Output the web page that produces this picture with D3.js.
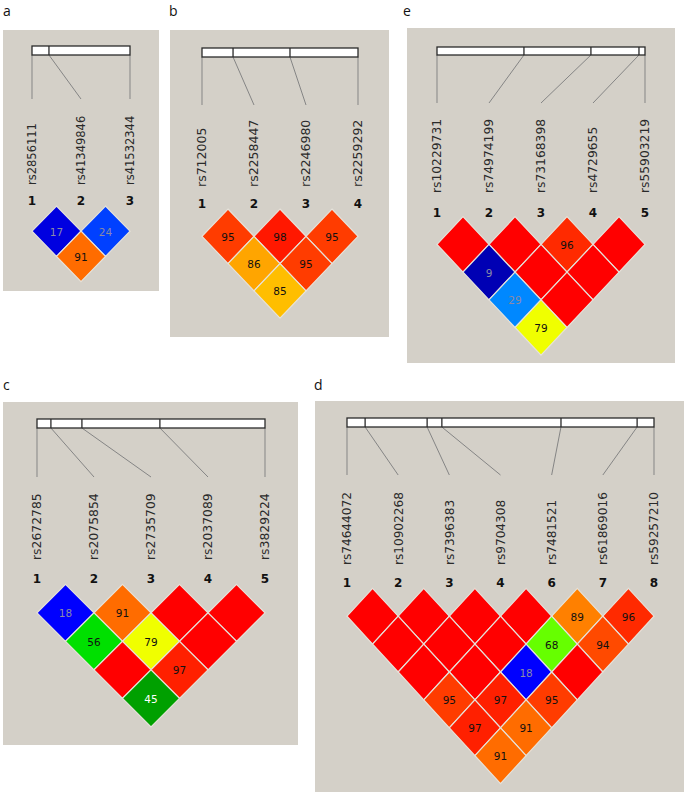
<!DOCTYPE html>
<html>
<head>
<meta charset="utf-8">
<script src="https://cdn.jsdelivr.net/npm/d3@7"></script>
<style>
  html, body { margin: 0; padding: 0; background: #ffffff; }
  svg { display: block; }
</style>
</head>
<body>
<div id="chart"></div>
<script>
// ---------------- DATA ----------------
const panelIds = ["a", "b", "c", "d", "e"];

// Panel a
const snpsA = ["rs2856111", "rs41349846", "rs41532344"];
const numsA = ["1", "2", "3"];
const physA = [0, 0.173, 1];                 // relative physical position on the bar
const dprimeA = [[17, 24], [91]];            // D' x100 by distance (row 1 = adjacent pairs); 100 = D' 1

// Panel b
const snpsB = ["rs712005", "rs2258447", "rs2246980", "rs2259292"];
const numsB = ["1", "2", "3", "4"];
const physB = [0, 0.199, 0.564, 1];
const dprimeB = [[95, 98, 95], [86, 95], [85]];

// Panel c
const snpsC = ["rs2672785", "rs2075854", "rs2735709", "rs2037089", "rs3829224"];
const numsC = ["1", "2", "3", "4", "5"];
const physC = [0, 0.061, 0.197, 0.539, 1];
const dprimeC = [[18, 91, 100, 100], [56, 79, 100], [100, 97], [45]];

// Panel d
const snpsD = ["rs74644072", "rs10902268", "rs7396383", "rs9704308", "rs7481521", "rs61869016", "rs59257210"];
const numsD = ["1", "2", "3", "4", "6", "7", "8"];
const physD = [0, 0.059, 0.261, 0.309, 0.697, 0.945, 1];
const dprimeD = [
  [100, 100, 100, 100, 89, 96],
  [100, 100, 100, 68, 94],
  [100, 100, 18, 100],
  [95, 97, 95],
  [97, 91],
  [91]
];

// Panel e
const snpsE = ["rs10229731", "rs74974199", "rs73168398", "rs4729655", "rs55903219"];
const numsE = ["1", "2", "3", "4", "5"];
const physE = [0, 0.418, 0.740, 0.971, 1];
const dprimeE = [[100, 100, 96, 100], [9, 100, 100], [29, 100], [79]];

// colour key (D' x100 -> fill)
const keyValues = [9, 17, 18, 24, 29, 45, 56, 68, 79, 85, 86, 89, 91, 94, 95, 96, 97, 98, 100];
const keyColors = ["#0000b4", "#0000e0", "#0000ff", "#0040ff", "#0088ff", "#00a000", "#00e000",
  "#66ff00", "#f0ff00", "#ffbe00", "#ffa500", "#ff8000", "#ff6c00", "#ff4a00", "#ff3c00",
  "#ff2a00", "#ff2000", "#ff1800", "#ff0000"];

// ---------------- LAYOUT ----------------
const W = 685, H = 794;
const layout = {
  a: { bg: [3, 30, 159, 291], lab: [3, 16], barTop: 46, barBot: 55, lineBot: 99, labelBot: 185, numBase: 204.5, x0: 32, x1: 130, top: 206, hy: 25.2, fs: 11.5 },
  b: { bg: [170, 30, 389, 337], lab: [169, 16], barTop: 48, barBot: 57, lineBot: 105, labelBot: 187, numBase: 208, x0: 202, x1: 358, top: 209, hy: 27.3, fs: 12.5 },
  c: { bg: [3, 402, 298, 745], lab: [3, 390], barTop: 419, barBot: 428, lineBot: 477, labelBot: 560, numBase: 583, x0: 37, x1: 265, top: 584.3, hy: 28.5, fs: 12.4 },
  d: { bg: [315, 401, 684, 792], lab: [314, 390], barTop: 418, barBot: 427, lineBot: 475, labelBot: 565, numBase: 587, x0: 347, x1: 654, top: 588.3, hy: 27.9, fs: 12.1 },
  e: { bg: [407, 28, 675, 363], lab: [403, 16], barTop: 47, barBot: 55, lineBot: 103, labelBot: 193, numBase: 216.5, x0: 437, x1: 645, top: 216.7, hy: 27.7, fs: 12.3 }
};
const panelData = {
  a: { snps: snpsA, nums: numsA, phys: physA, rows: dprimeA },
  b: { snps: snpsB, nums: numsB, phys: physB, rows: dprimeB },
  c: { snps: snpsC, nums: numsC, phys: physC, rows: dprimeC },
  d: { snps: snpsD, nums: numsD, phys: physD, rows: dprimeD },
  e: { snps: snpsE, nums: numsE, phys: physE, rows: dprimeE }
};

const color = d3.scaleLinear().domain(keyValues).range(keyColors).interpolate(d3.interpolateRgb);
const textColor = v => v < 40 ? "#8a8aa6" : (v < 50 ? "#ffffff" : "#111111");
const FONT = "'DejaVu Sans', sans-serif";

const svg = d3.select("#chart").append("svg")
  .attr("width", W).attr("height", H)
  .attr("viewBox", `0 0 ${W} ${H}`);

panelIds.forEach(id => {
  const L = layout[id], D = panelData[id];
  const n = D.snps.length;
  const g = svg.append("g").attr("class", "panel-" + id);

  // background
  g.append("rect")
    .attr("x", L.bg[0]).attr("y", L.bg[1])
    .attr("width", L.bg[2] - L.bg[0]).attr("height", L.bg[3] - L.bg[1])
    .attr("fill", "#d4d0c8");

  // panel letter
  g.append("text")
    .attr("x", L.lab[0]).attr("y", L.lab[1])
    .attr("font-family", "'Open Sans', 'DejaVu Sans', sans-serif")
    .attr("font-size", 14)
    .attr("fill", "#111")
    .text(id);

  const x = d3.scalePoint().domain(d3.range(n)).range([L.x0, L.x1]);
  const bx = d3.scaleLinear().domain([0, 1]).range([L.x0, L.x1]);
  const hx = (x(1) - x(0)) / 2;
  const rowY = d3.scaleLinear().domain([0, 1]).range([L.top, L.top + L.hy]);

  // connector lines bar -> marker
  g.selectAll("line.conn").data(D.phys).join("line")
    .attr("class", "conn")
    .attr("x1", d => bx(d)).attr("y1", L.barBot)
    .attr("x2", (d, i) => x(i)).attr("y2", L.lineBot)
    .attr("stroke", "#858585").attr("stroke-width", 1);

  // physical bar
  g.append("rect")
    .attr("x", bx(0)).attr("y", L.barTop)
    .attr("width", bx(1) - bx(0)).attr("height", L.barBot - L.barTop)
    .attr("fill", "#ffffff").attr("stroke", "#2a2a2a").attr("stroke-width", 1.3);
  g.selectAll("line.tick").data(D.phys.slice(1, -1)).join("line")
    .attr("class", "tick")
    .attr("x1", d => bx(d)).attr("x2", d => bx(d))
    .attr("y1", L.barTop).attr("y2", L.barBot)
    .attr("stroke", "#2a2a2a").attr("stroke-width", 1.3);

  // SNP names
  g.selectAll("text.snp").data(D.snps).join("text")
    .attr("class", "snp")
    .attr("transform", (d, i) => `translate(${x(i) + 4.4},${L.labelBot}) rotate(-90)`)
    .attr("font-family", FONT).attr("font-size", L.fs)
    .attr("fill", "#2a2a2a")
    .text(d => d);

  // marker numbers
  g.selectAll("text.num").data(D.nums).join("text")
    .attr("class", "num")
    .attr("x", (d, i) => x(i)).attr("y", L.numBase)
    .attr("text-anchor", "middle")
    .attr("font-family", FONT).attr("font-size", 12).attr("font-weight", "bold")
    .attr("fill", "#111")
    .text(d => d);

  // LD cells
  const cells = [];
  D.rows.forEach((row, k) => {
    row.forEach((v, i) => {
      const j = i + k + 1;
      cells.push({ v, cx: (x(i) + x(j)) / 2, cy: rowY(k + 1) });
    });
  });
  g.selectAll("polygon.cell").data(cells).join("polygon")
    .attr("class", "cell")
    .attr("points", c => [[c.cx, c.cy - L.hy], [c.cx + hx, c.cy], [c.cx, c.cy + L.hy], [c.cx - hx, c.cy]].map(p => p.join(",")).join(" "))
    .attr("fill", c => color(c.v))
    .attr("stroke", "#e6e2da").attr("stroke-width", 1.2);
  g.selectAll("text.val").data(cells.filter(c => c.v < 100)).join("text")
    .attr("class", "val")
    .attr("x", c => c.cx).attr("y", c => c.cy + 4.5)
    .attr("text-anchor", "middle")
    .attr("font-family", FONT).attr("font-size", 10.5)
    .attr("fill", c => textColor(c.v))
    .text(c => c.v);
});
</script>
</body>
</html>
